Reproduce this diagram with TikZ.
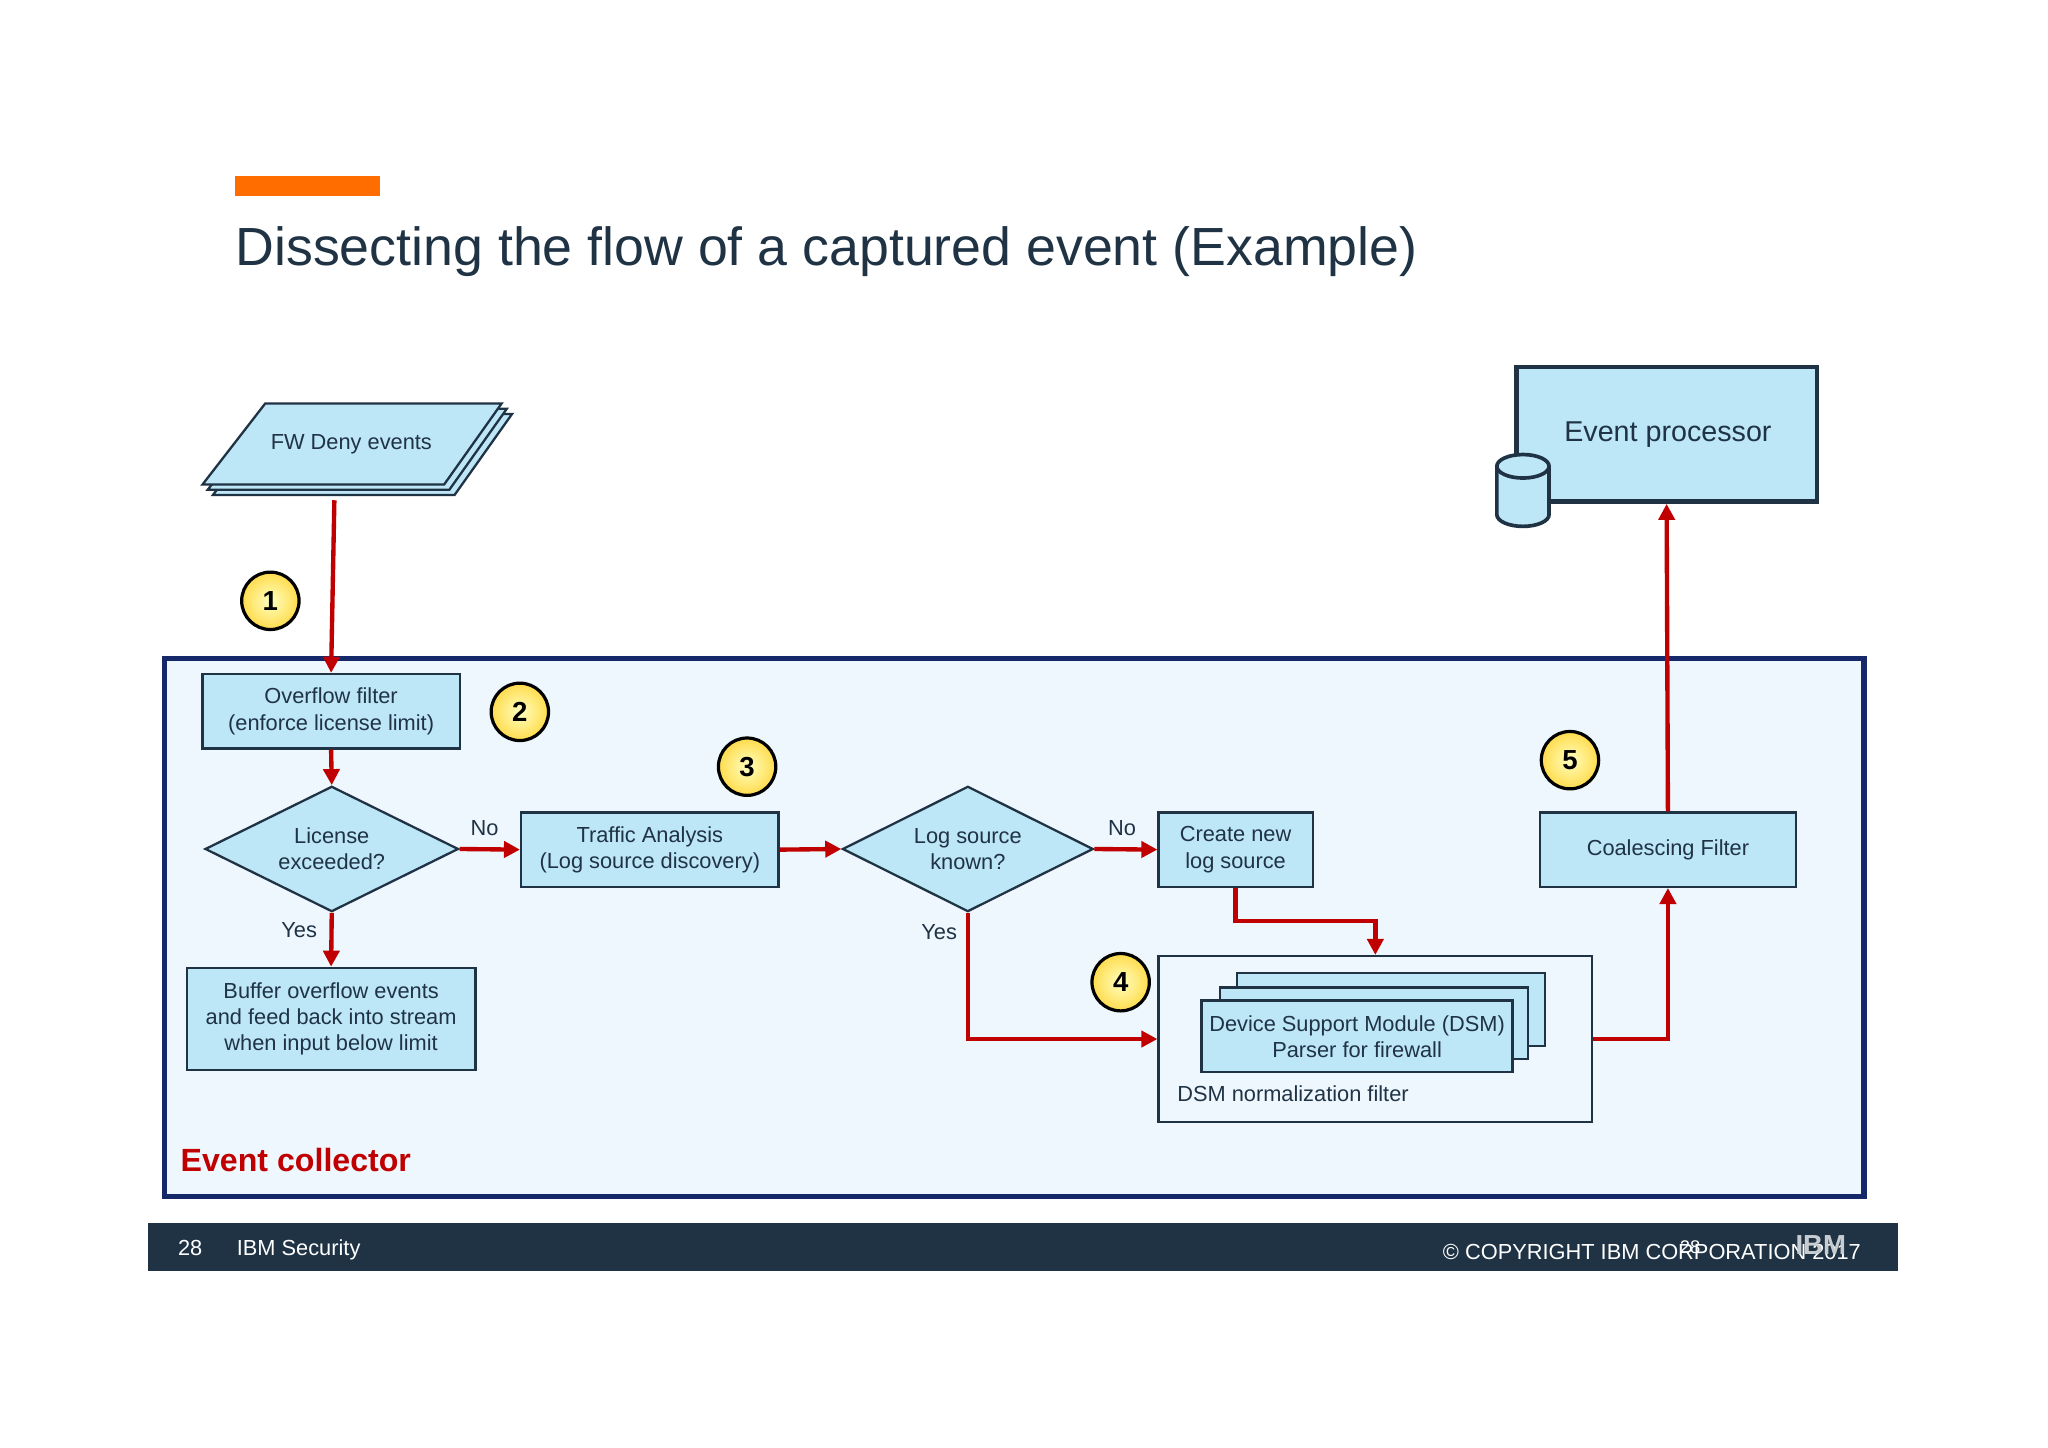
\documentclass[tikz,border=0pt]{standalone}
\usepackage{fontspec}
\setmainfont{Liberation Sans}
\usetikzlibrary{shapes.geometric,arrows.meta}
\definecolor{dk}{HTML}{1F3345}
\definecolor{lb}{HTML}{BDE6F7}
\definecolor{rd}{HTML}{C00000}
\definecolor{nv}{HTML}{14286A}
\definecolor{bg}{HTML}{EEF7FD}
\begin{document}
\begin{tikzpicture}[x=0.02cm,y=-0.02cm,
  box/.style={draw=dk,line width=1pt,fill=lb,text=dk,align=center,font=\fontsize{9.5}{11.5}\selectfont},
  dia/.style={diamond,draw=dk,line width=1pt,fill=lb,text=dk,align=center,font=\fontsize{9.5}{11.5}\selectfont,inner sep=0pt},
  arr/.style={draw=rd,line width=1.9pt,-{Triangle[length=7pt,width=7pt]}},
  num/.style={circle,draw=black,line width=1.4pt,inner color=yellow!25,outer color=yellow!60!orange!70,minimum size=25pt,inner sep=0pt,font=\bfseries\fontsize{12}{12}\selectfont},
  lbl/.style={text=dk,font=\fontsize{9.5}{11.5}\selectfont}]
\useasboundingbox (0,0) rectangle (1568,1108);
\fill[white] (0,0) rectangle (1568,1108);
\fill[orange!85!red] (180,135) rectangle (291,150);
\node[anchor=base west,text=dk,font=\fontsize{23.4}{26}\selectfont,inner sep=0] (title) at (180,203) {Dissecting the flow of a captured event (Example)};
% collector
\draw[draw=nv,fill=bg,line width=2.3pt] (126,504) rectangle (1427,916);
\node[anchor=base west,text=rd,font=\bfseries\fontsize{14}{16}\selectfont,inner sep=0] (ec) at (138,897) {Event collector};
% FW deny
\foreach \d in {8,4}{\draw[dk,line width=1pt,fill=lb] (203+\d,309+\d) -- (384+\d,309+\d) -- (340+\d,371+\d) -- (155+\d,371+\d) -- cycle;}
\draw[dk,line width=1pt,fill=lb] (203,309) -- (384,309) -- (340,371) -- (155,371) -- cycle;
\node[lbl] (fw) at (269,340) {FW Deny events};
\coordinate (fwb) at (256,383);
% nodes
\node[box,minimum width=197*0.02cm,minimum height=57*0.02cm] (of) at (253.5,544.5) {Overflow filter\\(enforce license limit)};
\node[dia,minimum width=194*0.02cm,minimum height=96*0.02cm,aspect=2] (d1) at (254,650) {License\\exceeded?};
\node[box,minimum width=197*0.02cm,minimum height=57*0.02cm] (ta) at (497.5,650.5) {Traffic Analysis\\(Log source discovery)};
\node[dia,minimum width=192*0.02cm,minimum height=96*0.02cm,aspect=2] (d2) at (741,650) {Log source\\known?};
\node[box,minimum width=118*0.02cm,minimum height=57*0.02cm] (cn) at (946,650.5) {Create new\\log source};
\node[box,minimum width=221*0.02cm,minimum height=78*0.02cm] (bf) at (253.5,780) {Buffer overflow events\\and feed back into stream\\when input below limit};
\node[box,minimum width=196*0.02cm,minimum height=57*0.02cm] (cf) at (1277,650.5) {Coalescing Filter};
\node[draw=dk,line width=2pt,fill=lb,minimum width=230*0.02cm,minimum height=103*0.02cm,text=dk,font=\fontsize{12.5}{14}\selectfont] (ep) at (1276,332.5) {};
\node[text=dk,font=\fontsize{12.5}{14}\selectfont] at (1277,333) {Event processor};
% cylinder
\draw[dk,line width=1.6pt,fill=lb] (1146,357) -- (1146,394) arc[start angle=180,end angle=360,x radius=20,y radius=-9] -- (1186,357);
\draw[dk,line width=1.6pt,fill=lb] (1166,357) ellipse [x radius=20,y radius=9];
% DSM
\node[draw=dk,line width=1pt,fill=bg,minimum width=332*0.02cm,minimum height=127*0.02cm] (dsm) at (1053,795.5) {};
\draw[dk,line width=1pt,fill=lb] (947,745) rectangle (1183,801);
\draw[dk,line width=1pt,fill=lb] (934,756) rectangle (1170,811);
\node[box,minimum width=236*0.02cm,minimum height=55*0.02cm] (parser) at (1039,793.5) {Device Support Module (DSM)\\Parser for firewall};
\node[lbl,anchor=west,inner sep=0] (nf) at (901,837) {DSM normalization filter};
% numbers
\node[num] (n1) at (207,460) {1};
\node[num] (n2) at (398,545) {2};
\node[num] (n3) at (572,587) {3};
\node[num] (n4) at (858,752) {4};
\node[num] (n5) at (1202,582) {5};
% labels
\node[lbl] (no1) at (371,634) {No};
\node[lbl] (no2) at (859,634) {No};
\node[lbl] (y1) at (229,712) {Yes};
\node[lbl] (y2) at (719,714) {Yes};
% arrows
\draw[arr] (fwb) -- (of.north);
\draw[arr] (of.south) -- (d1.north);
\draw[arr] (d1.east) -- (ta.west);
\draw[arr] (d1.south) -- (bf.north);
\draw[arr] (ta.east) -- (d2.west);
\draw[arr] (d2.east) -- (cn.west);
\draw[arr] (cn.south) |- (1053,705) -- (dsm.north);
\draw[arr] (d2.south) |- (dsm.west);
\draw[arr] (dsm.east) -| (cf.south);
\draw[arr] (cf.north) -- (ep.south);
% footer
\fill[dk] (113,936) rectangle (1453,973);
\node[anchor=base west,text=white,font=\fontsize{9.5}{11}\selectfont,inner sep=0] (pg) at (136,961) {28};
\node[anchor=base west,text=white,font=\fontsize{9.5}{11}\selectfont,inner sep=0] (ibms) at (181,961) {IBM Security};
\node[anchor=base east,text=white,font=\fontsize{9.5}{11}\selectfont,inner sep=0] (cp) at (1425,964) {© COPYRIGHT IBM CORPORATION 2017};
\node[text=white,font=\fontsize{8}{9}\selectfont,inner sep=0] (pg2) at (1294,955) {28};
\node[text=white!75!dk,font=\bfseries\fontsize{12}{12}\selectfont,inner sep=0] (logo) at (1394,953) {IBM};
\end{tikzpicture}
\end{document}
